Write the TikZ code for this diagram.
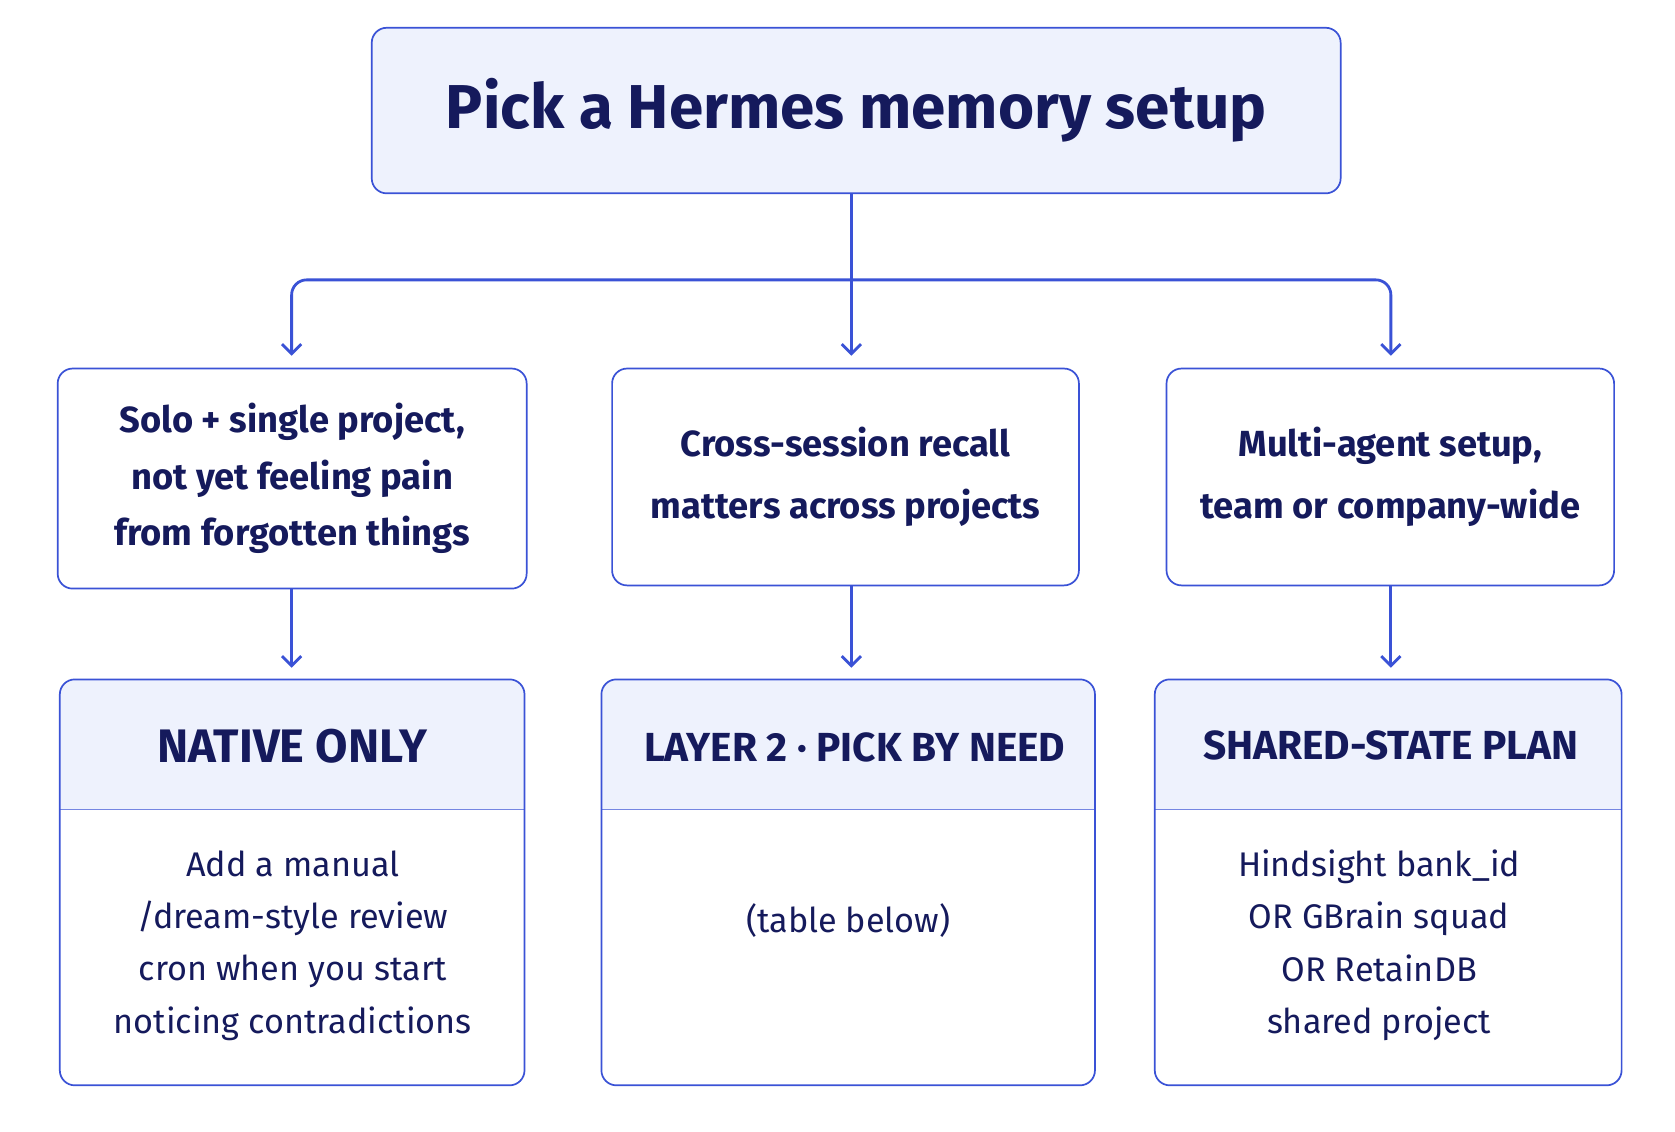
\documentclass[tikz,border=0pt]{standalone}
\usepackage{fontspec}
\setmainfont{Fira Sans}
\usetikzlibrary{arrows.meta}
\definecolor{bl}{HTML}{3A52D6}
\definecolor{nv}{HTML}{151A5C}
\definecolor{lf}{HTML}{EEF2FD}
\begin{document}
\begin{tikzpicture}[x=1pt,y=-1pt,
 box/.style={draw=bl,line width=1.6pt,rounded corners=14pt},
 arr/.style={draw=bl,line width=2.6pt,-{Straight Barb[length=9pt,width=18pt,line width=2.6pt]}},
 txt/.style={text=nv,align=center,font=\fontsize{34}{52}\selectfont},
 hd/.style={text=nv,font=\bfseries\fontsize{38}{44}\selectfont}]
\useasboundingbox (0,0) rectangle (1568,1059);
\fill[white] (0,0) rectangle (1568,1059);
% title
\node[box,fill=lf,minimum width=907pt,minimum height=155pt,inner sep=0pt] (t) at (801.5,103.5) {};
\node[text=nv,font=\bfseries\fontsize{58}{64}\selectfont] (tt) at (t) {Pick a Hermes memory setup};
% middle
\node[box,fill=white,minimum width=439pt,minimum height=206pt] (m1) at (273.5,448) {};
\node[box,fill=white,minimum width=437pt,minimum height=203pt] (m2) at (791.5,446.5) {};
\node[box,fill=white,minimum width=419pt,minimum height=203pt] (m3) at (1301.5,446.5) {};
\node[txt,font=\bfseries\fontsize{34}{53}\selectfont] (m1t) at (m1) {Solo + single project,\\not yet feeling pain\\from forgotten things};
\node[txt,font=\bfseries\fontsize{34}{58}\selectfont] (m2t) at (m2) {Cross-session recall\\matters across projects};
\node[txt,font=\bfseries\fontsize{34}{58}\selectfont] (m3t) at (m3) {Multi-agent setup,\\team or company-wide};
% connectors top
\coordinate (j) at (797,262);
\coordinate (a1) at (273,333);
\coordinate (a2) at (797,333);
\coordinate (a3) at (1302,333);
\draw[draw=bl,line width=2.6pt] (t.south -| j) -- (j);
\draw[arr,rounded corners=14pt] (j) -| (a1);
\draw[arr,rounded corners=14pt] (j) -| (a3);
\draw[arr] (j) -- (a2);
% bottom boxes
\foreach \n/\l/\r in {b1/56/491,b2/563/1025,b3/1081/1518}{
  \begin{scope}
  \clip[rounded corners=14pt] (\l,636) rectangle (\r,1016);
  \fill[lf] (\l,636) rectangle (\r,758);
  \end{scope}
  \draw[bl!70,line width=1.2pt] (\l,758) -- (\r,758);
  \node[box,minimum width=\r pt-\l pt,minimum height=380pt,inner sep=0pt] (\n) at ({(\l+\r)/2},826) {};
}
\node[hd,font=\bfseries\fontsize{44}{50}\selectfont] (h1) at (273.5,699) {NATIVE ONLY};
\node[hd] (h2) at (800,700) {LAYER 2 · PICK BY NEED};
\node[hd] (h3) at (1302,698) {SHARED-STATE PLAN};
\node[txt,font=\fontsize{32}{49}\selectfont] (c1) at (274,885) {Add a manual\\/dream-style review\\cron when you start\\noticing contradictions};
\node[txt,font=\fontsize{32}{49}\selectfont] (c2) at (794,862) {(table below)};
\node[txt,font=\fontsize{32}{49}\selectfont] (c3) at (1291,885) {Hindsight bank\_id\\OR GBrain squad\\OR RetainDB\\shared project};
% lower arrows
\draw[arr] (m1.south -| a1) -- (273,625);
\draw[arr] (m2.south -| a2) -- (797,625);
\draw[arr] (m3.south -| a3) -- (1302,625);
\end{tikzpicture}
\end{document}
